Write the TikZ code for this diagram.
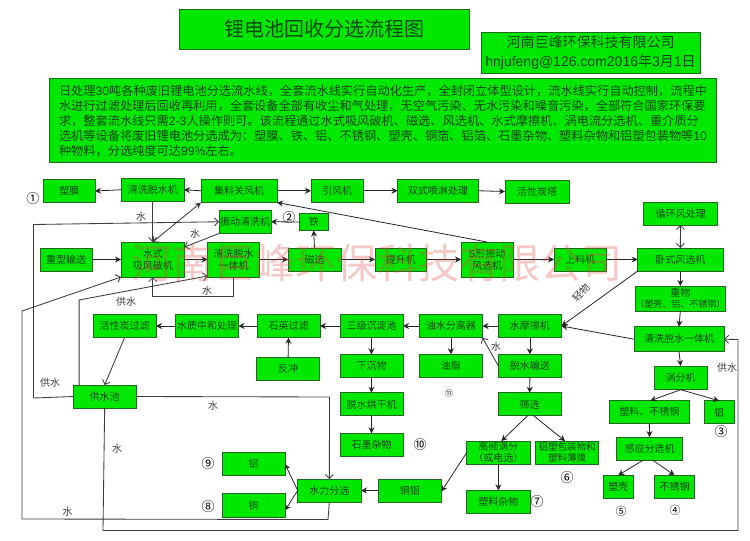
\documentclass[tikz,border=0pt]{standalone}
\usepackage{fontspec}
\setmainfont{Noto Sans CJK SC}
\newfontfamily\latn{Liberation Sans}
\usetikzlibrary{arrows.meta}
\definecolor{boxg}{RGB}{0,232,0}
\definecolor{boxe}{RGB}{30,105,30}
\definecolor{txtg}{RGB}{10,70,10}
\definecolor{linec}{RGB}{60,60,60}
\definecolor{wm}{RGB}{225,70,70}
\newcommand{\fsz}[1]{\fontsize{#1}{#1}\selectfont}
\tikzset{
  bx/.style={draw=boxe,fill=boxg,line width=.9pt,inner sep=0pt,outer sep=0pt,align=center,text=txtg,font=\fsz{10}},
  sol/.style={draw=black!85,line width=.8pt,-{Stealth[length=6pt,width=6pt]}},
  opn/.style={draw=linec,line width=.85pt,-{Straight Barb[length=4pt,width=8pt]}},
  dbl/.style={draw=linec,line width=.85pt,{Straight Barb[length=4pt,width=8pt]}-{Straight Barb[length=4pt,width=8pt]}},
  lbl/.style={text=linec,font=\fsz{10},inner sep=0pt},
  circ/.style={text=black,font=\fsz{13},inner sep=0pt}
}
\newcommand{\bxn}[6]{%
  \pgfmathsetmacro{\bw}{#4-#2}\pgfmathsetmacro{\bh}{#5-#3}%
  \pgfmathsetmacro{\cxx}{(#4+#2)/2}\pgfmathsetmacro{\cyy}{(#5+#3)/2}%
  \node[bx,minimum width=\bw pt,minimum height=\bh pt] (#1) at (\cxx,\cyy) {#6};}
\begin{document}
\begin{tikzpicture}[x=1pt,y=-1pt]
\useasboundingbox[fill=white] (0,0) rectangle (750,541);
\bxn{title}{179}{9}{469}{49.5}{\fsz{20}\raisebox{2pt}{锂电池回收分选流程图}}
\bxn{comp}{481}{32.5}{700}{73}{\fsz{14}河南巨峰环保科技有限公司\\[5pt]\fsz{14}{\latn hnjufeng@126.com2016}年{\latn 3}月{\latn 1}日}
\node[bx,minimum width=667pt,minimum height=84pt,align=left,font=\fontsize{12.2}{15}\selectfont] (para) at (383,120.5) {日处理{\latn 30}吨各种废旧锂电池分选流水线，全套流水线实行自动化生产，全封闭立体型设计，流水线实行自动控制，流程中\\
水进行过滤处理后回收再利用，全套设备全部有收尘和气处理，无空气污染、无水污染和噪音污染，全部符合国家环保要\\
求，整套流水线只需{\latn 2-3}人操作则可。该流程通过水式吸风破机、磁选、风选机、水式摩擦机、涡电流分选机、重介质分\\
选机等设备将废旧锂电池分选成为：塑膜、铁、铝、不锈钢、塑壳、铜箔、铝箔、石墨杂物、塑料杂物和铝塑包装物等{\latn 10}\\
种物料，分选纯度可达{\latn 99\%}左右。\hspace*{435pt}};
\bxn{sumo}{43.5}{179.5}{95}{202.5}{塑膜}
\bxn{qxj}{121.5}{178}{184}{201.5}{清洗脱水机}
\bxn{jl}{201}{179}{277}{202.5}{集料关风机}
\bxn{yf}{311}{179}{363}{202.5}{引风机}
\bxn{ss}{397.5}{179}{478}{202.5}{双式喷淋处理}
\bxn{hxt}{505}{180}{569}{203}{活性炭塔}
\bxn{xh}{643.5}{202}{717.5}{225}{循环风处理}
\bxn{wf}{637.7}{248}{723}{271}{卧式风选机}
\bxn{zw}{635}{286}{725.7}{311}{重物\\[1pt]\fsz{9}（塑壳、铝、不锈钢）}
\bxn{qtr}{634}{326.7}{724}{351.7}{清洗脱水一体机}
\bxn{zd}{219}{210}{271}{233.5}{振动清洗机}
\bxn{tie}{299.5}{213.5}{328}{230.5}{铁}
\bxn{zx}{40}{248}{92}{271}{重型输送}
\bxn{sp}{121}{242}{184.5}{277}{水式\\[2pt]吸风破机}
\bxn{qtl}{207.5}{242}{259.5}{277}{清洗脱水\\[2pt]一体机}
\bxn{cx}{288}{248}{341}{271}{磁选}
\bxn{ts}{375}{248}{426.7}{271}{提升机}
\bxn{sx}{461}{242}{513}{277}{{\latn S}形振动\\[2pt]风选机}
\bxn{sl}{554}{248}{606}{271}{上料机}
\bxn{hgl}{93}{314.3}{156}{337.7}{活性炭过滤}
\bxn{sz}{175.5}{314.3}{238.5}{337.7}{水质中和处理}
\bxn{sy}{257}{314.3}{320}{337.7}{石英过滤}
\bxn{sj}{340}{314.3}{403}{337.7}{三级沉淀池}
\bxn{ys}{419.3}{314.3}{482.5}{337.7}{油水分离器}
\bxn{sm}{498.3}{314.3}{561.5}{337.7}{水摩擦机}
\bxn{fc}{256.7}{357.3}{319.5}{380.3}{反冲}
\bxn{xc}{340}{354.3}{403}{377.3}{下沉物}
\bxn{hg}{340}{392.7}{403}{415.7}{脱水烘干机}
\bxn{sm2}{340}{433.3}{403}{456.7}{石墨杂物}
\bxn{yz}{419.3}{354.3}{482.5}{377.3}{油脂}
\bxn{tw}{498.3}{354.3}{561.5}{377.3}{脱水输送}
\bxn{sxu}{498.3}{392.7}{561}{415.7}{筛选}
\bxn{gp}{466.7}{441}{530}{464.3}{高频涡分\\[1pt]（或电选）}
\bxn{ls}{535.3}{441}{598.7}{464.3}{\fsz{9.5}铝塑包装物和\\[1pt]\fsz{9.5}塑料薄膜}
\bxn{slz}{466.7}{490.3}{530}{513.7}{塑料杂物}
\bxn{tl}{378.3}{479}{441.3}{502}{铜铝}
\bxn{slf}{297.7}{479}{361}{502}{水力分选}
\bxn{lv}{222}{452.3}{285}{475.7}{铝}
\bxn{tong}{222}{493.7}{285}{517}{铜}
\bxn{gsc}{73.3}{385}{136}{408}{供水池}
\bxn{wfj}{654.3}{366}{707}{389.7}{涡分机}
\bxn{slb}{609.7}{400.7}{689}{423.7}{塑料、不锈钢}
\bxn{lvr}{704}{400.7}{734}{423.7}{铝}
\bxn{gy}{616.3}{437}{682.7}{460}{感应分选机}
\bxn{sk}{603.3}{475.3}{633}{498.7}{塑壳}
\bxn{bxg}{654.3}{475.3}{694.7}{498.7}{不锈钢}
% solid connectors
\draw[sol] (qxj.west) -- (sumo.east);
\draw[sol] (jl.west) -- (qxj.east);
\draw[sol] (jl.east) -- (yf.west);
\draw[sol] (yf.east) -- (ss.west);
\draw[sol] (ss.east) -- (hxt.west);
\draw[sol] (tie.west) -- (zd.east);
\draw[sol] (cx.north) -- (tie.south);
\draw[sol] (zx.east) -- (sp.west);
\draw[sol] (sp.east) -- (qtl.west);
\draw[sol] (qtl.east) -- (cx.west);
\draw[sol] (cx.east) -- (ts.west);
\draw[sol] (ts.east) -- (sx.west);
\draw[sol] (sx.east) -- (sl.west);
\draw[sol] (sl.east) -- (wf.west);
\draw[sol] (sx.north) -- (jl.south east);
\draw[sol] (wf.south) -- (zw.north);
\draw[sol] (zw.south) -- (qtr.north);
\draw[sol] (wf.south west) -- (sm.east);
\draw[sol] (qtr.west) -- (sm.east);
\draw[sol] (sm.west) -- (ys.east);
\draw[sol] (ys.west) -- (sj.east);
\draw[sol] (sj.west) -- (sy.east);
\draw[sol] (sy.west) -- (sz.east);
\draw[sol] (sz.west) -- (hgl.east);
\draw[sol] (fc.north) -- (sy.south);
\draw[sol] (sj.south) -- (xc.north);
\draw[sol] (xc.south) -- (hg.north);
\draw[sol] (hg.south) -- (sm2.north);
\draw[sol] (ys.south) -- (yz.north);
\draw[sol] (sm.south) -- (tw.north);
\draw[sol] (tw.south) -- (sxu.north);
\draw[sol] ([xshift=-2pt]sxu.south) -- ([xshift=3pt]gp.north);
\draw[sol] ([xshift=4pt]sxu.south) -- ([xshift=-2pt]ls.north);
\draw[sol] (gp.south) -- (slz.north);
\draw[sol] (gp.west) -- ([yshift=-1pt]tl.east);
\draw[sol] (tl.west) -- (slf.east);
\draw[sol] (slf.west) -- (lv.east);
\draw[sol] (slf.west) -- ([yshift=-5pt]tong.east);
\draw[sol] (qtr.south) -- (wfj.north);
\draw[sol] (wfj.south) -- ([xshift=1pt]slb.north);
\draw[sol] (wfj.south) -- (lvr.north);
\draw[sol] (slb.south) -- (gy.north);
\draw[sol] ([xshift=-6pt]gy.south) -- (sk.north);
\draw[sol] ([xshift=3pt]gy.south) -- (bxg.north);
% double / solid-open
\draw[draw=linec,line width=.85pt,{Stealth[length=6pt,width=6pt]}-{Straight Barb[length=4pt,width=8pt]}] (jl.south west) -- (sp.north);
\draw[dbl] (xh.south) -- (wf.north);
% water connectors
\draw[opn] (qxj.south) -- (sp.north);
\draw[opn] (zd.south west) -- ([yshift=-5pt]sp.north east);
\draw[opn] (gsc.west) -- (33.5,398) -- (33.5,224.5) -- (zd.west);
\draw[opn] (tw.west) -- (ys.south east);
\draw[opn] (hgl.south) -- (gsc.north);
\draw[opn] (gsc.east) -- (329.5,397) -- (slf.north);
\draw[opn] (gsc.south) -- (103,530.5) -- (738,530.5) -- (738,339.5) -- (qtr.east);
\draw[opn] (slf.south) -- (328,519.5) -- (22,519) -- (22,311) -- (sp.south west);
\draw[opn] ([xshift=-25.5pt]gsc.north) |- (79,300) -- ([yshift=1pt]qtl.south west);
\draw[opn] (qtl.south) -- (233.5,296) -- (152.75,296) -- (sp.south);
% labels
\node[lbl] (l1) at (141,216.5) {水};
\node[lbl] (l2) at (195,233.5) {水};
\node[lbl] (l3) at (207,291) {水};
\node[lbl] (l4) at (126,301.5) {供水};
\node[lbl] (l5) at (50,383) {供水};
\node[lbl] (l6) at (213,406) {水};
\node[lbl] (l7) at (117,449) {水};
\node[lbl] (l8) at (67.5,512) {水};
\node[lbl] (l9) at (496,347) {水};
\node[lbl] (l10) at (727,367.5) {供水};
\node[lbl,rotate=48] (l11) at (581,293) {轻物};
% circled numbers
\node[circ] (c1) at (33,199) {①};
\node[circ] (c2) at (289,218) {②};
\node[circ] (c3) at (721,432) {③};
\node[circ,font=\fsz{11}] (c4) at (675,510.5) {④};
\node[circ,font=\fsz{11}] (c5) at (621,511.5) {⑤};
\node[circ] (c6) at (567,478) {⑥};
\node[circ] (c7) at (537,502) {⑦};
\node[circ] (c8) at (208,506.5) {⑧};
\node[circ] (c9) at (208,464) {⑨};
\node[circ] (c10) at (420,445) {⑩};
\node[circ,font=\fsz{8}] (c11) at (449,393.5) {⑪};
% watermark
\node[text=wm,text opacity=.3,font=\fsz{41},inner sep=0pt] (wmk) at (377,263) {河南巨峰环保科技有限公司};
\end{tikzpicture}
\end{document}
